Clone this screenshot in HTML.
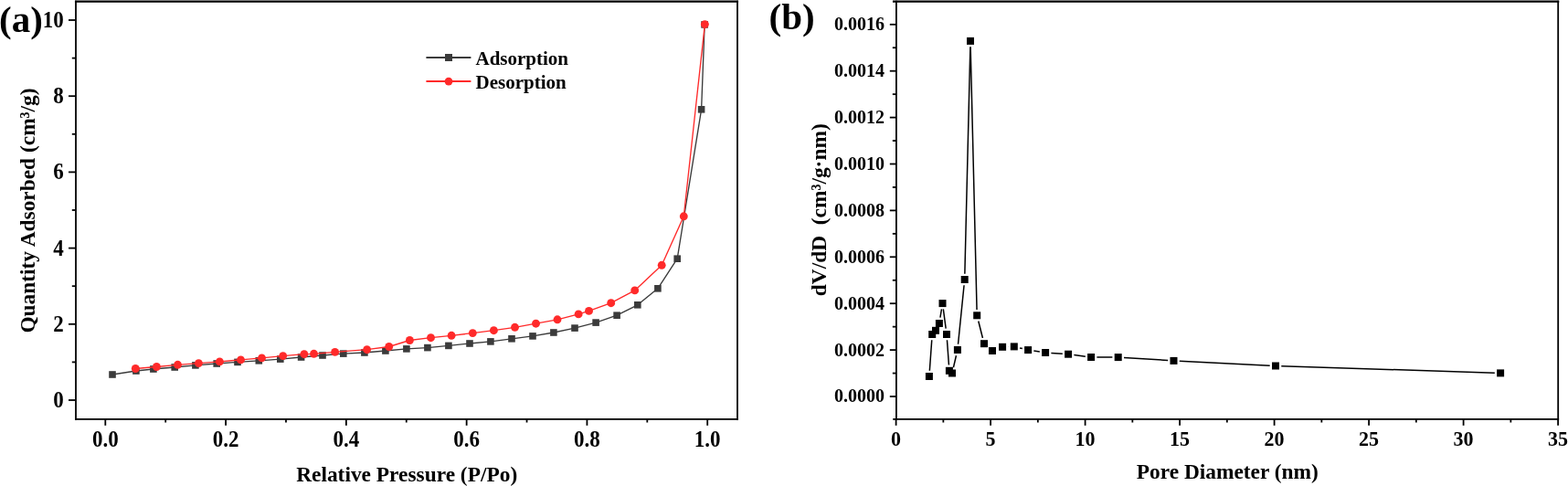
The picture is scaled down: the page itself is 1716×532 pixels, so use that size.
<!DOCTYPE html>
<html><head><meta charset="utf-8"><title>Figure</title>
<style>
html,body{margin:0;padding:0;background:#fff;}
body{width:1716px;height:532px;overflow:hidden;}
svg{display:block;}
svg text{font-family:"Liberation Serif", "Times New Roman", serif;font-weight:bold;fill:#000;}
</style></head>
<body>
<svg width="1716" height="532" viewBox="0 0 1716 532">
<rect width="1716" height="532" fill="#fff"/>
<g stroke-linecap="square">
<line x1="83.00" y1="1.60" x2="807.00" y2="1.60" stroke="#000" stroke-width="2.1"/>
<line x1="83.00" y1="458.90" x2="807.00" y2="458.90" stroke="#000" stroke-width="1.8"/>
<line x1="83.00" y1="1.60" x2="83.00" y2="458.90" stroke="#000" stroke-width="1.8"/>
<line x1="807.00" y1="1.60" x2="807.00" y2="458.90" stroke="#000" stroke-width="1.8"/>
</g>
<line x1="115.30" y1="458.90" x2="115.30" y2="465.80" stroke="#000" stroke-width="1.8"/>
<text transform="translate(115.30,489.20) scale(1,1.07)" font-size="23" text-anchor="middle">0.0</text>
<line x1="181.19" y1="458.90" x2="181.19" y2="462.50" stroke="#000" stroke-width="1.8"/>
<line x1="247.08" y1="458.90" x2="247.08" y2="465.80" stroke="#000" stroke-width="1.8"/>
<text transform="translate(247.08,489.20) scale(1,1.07)" font-size="23" text-anchor="middle">0.2</text>
<line x1="312.97" y1="458.90" x2="312.97" y2="462.50" stroke="#000" stroke-width="1.8"/>
<line x1="378.86" y1="458.90" x2="378.86" y2="465.80" stroke="#000" stroke-width="1.8"/>
<text transform="translate(378.86,489.20) scale(1,1.07)" font-size="23" text-anchor="middle">0.4</text>
<line x1="444.75" y1="458.90" x2="444.75" y2="462.50" stroke="#000" stroke-width="1.8"/>
<line x1="510.64" y1="458.90" x2="510.64" y2="465.80" stroke="#000" stroke-width="1.8"/>
<text transform="translate(510.64,489.20) scale(1,1.07)" font-size="23" text-anchor="middle">0.6</text>
<line x1="576.53" y1="458.90" x2="576.53" y2="462.50" stroke="#000" stroke-width="1.8"/>
<line x1="642.42" y1="458.90" x2="642.42" y2="465.80" stroke="#000" stroke-width="1.8"/>
<text transform="translate(642.42,489.20) scale(1,1.07)" font-size="23" text-anchor="middle">0.8</text>
<line x1="708.31" y1="458.90" x2="708.31" y2="462.50" stroke="#000" stroke-width="1.8"/>
<line x1="774.20" y1="458.90" x2="774.20" y2="465.80" stroke="#000" stroke-width="1.8"/>
<text transform="translate(774.20,489.20) scale(1,1.07)" font-size="23" text-anchor="middle">1.0</text>
<line x1="75.00" y1="438.00" x2="83.00" y2="438.00" stroke="#000" stroke-width="1.8"/>
<text transform="translate(69.70,445.90) scale(1,1.07)" font-size="23" text-anchor="end">0</text>
<line x1="78.80" y1="396.40" x2="83.00" y2="396.40" stroke="#000" stroke-width="1.8"/>
<line x1="75.00" y1="354.80" x2="83.00" y2="354.80" stroke="#000" stroke-width="1.8"/>
<text transform="translate(69.70,362.70) scale(1,1.07)" font-size="23" text-anchor="end">2</text>
<line x1="78.80" y1="313.20" x2="83.00" y2="313.20" stroke="#000" stroke-width="1.8"/>
<line x1="75.00" y1="271.60" x2="83.00" y2="271.60" stroke="#000" stroke-width="1.8"/>
<text transform="translate(69.70,279.50) scale(1,1.07)" font-size="23" text-anchor="end">4</text>
<line x1="78.80" y1="230.00" x2="83.00" y2="230.00" stroke="#000" stroke-width="1.8"/>
<line x1="75.00" y1="188.40" x2="83.00" y2="188.40" stroke="#000" stroke-width="1.8"/>
<text transform="translate(69.70,196.30) scale(1,1.07)" font-size="23" text-anchor="end">6</text>
<line x1="78.80" y1="146.80" x2="83.00" y2="146.80" stroke="#000" stroke-width="1.8"/>
<line x1="75.00" y1="105.20" x2="83.00" y2="105.20" stroke="#000" stroke-width="1.8"/>
<text transform="translate(69.70,113.10) scale(1,1.07)" font-size="23" text-anchor="end">8</text>
<line x1="78.80" y1="63.60" x2="83.00" y2="63.60" stroke="#000" stroke-width="1.8"/>
<line x1="75.00" y1="22.00" x2="83.00" y2="22.00" stroke="#000" stroke-width="1.8"/>
<text transform="translate(69.70,29.90) scale(1,1.07)" font-size="23" text-anchor="end">10</text>
<text x="445.20" y="526.70" font-size="23.4" text-anchor="middle">Relative Pressure (P/Po)</text>
<text transform="translate(38.0,230.5) rotate(-90)" font-size="23.4" text-anchor="middle">Quantity Adsorbed (cm³/g)</text>
<text x="-1.00" y="34.50" font-size="41" text-anchor="start">(a)</text>
<polyline points="123.0,410.0 148.9,406.0 167.9,404.0 191.2,402.0 213.9,399.9 237.2,398.0 260.0,396.4 283.3,394.8 306.8,393.1 329.6,391.0 353.0,389.0 375.8,387.1 398.9,386.0 421.9,384.0 444.9,381.9 467.9,380.6 490.9,378.4 514.0,376.0 536.9,373.9 560.0,370.8 583.0,367.9 605.9,364.0 629.0,359.1 652.1,353.1 675.1,345.2 697.8,333.8 719.9,315.8 741.2,283.2 767.6,119.8 771.1,26.9" fill="none" stroke="#3b3b3b" stroke-width="1.35" stroke-linejoin="round"/>
<rect x="119.20" y="406.20" width="7.6" height="7.6" fill="#3b3b3b"/>
<rect x="145.10" y="402.20" width="7.6" height="7.6" fill="#3b3b3b"/>
<rect x="164.10" y="400.20" width="7.6" height="7.6" fill="#3b3b3b"/>
<rect x="187.40" y="398.20" width="7.6" height="7.6" fill="#3b3b3b"/>
<rect x="210.10" y="396.10" width="7.6" height="7.6" fill="#3b3b3b"/>
<rect x="233.40" y="394.20" width="7.6" height="7.6" fill="#3b3b3b"/>
<rect x="256.20" y="392.60" width="7.6" height="7.6" fill="#3b3b3b"/>
<rect x="279.50" y="391.00" width="7.6" height="7.6" fill="#3b3b3b"/>
<rect x="303.00" y="389.30" width="7.6" height="7.6" fill="#3b3b3b"/>
<rect x="325.80" y="387.20" width="7.6" height="7.6" fill="#3b3b3b"/>
<rect x="349.20" y="385.20" width="7.6" height="7.6" fill="#3b3b3b"/>
<rect x="372.00" y="383.30" width="7.6" height="7.6" fill="#3b3b3b"/>
<rect x="395.10" y="382.20" width="7.6" height="7.6" fill="#3b3b3b"/>
<rect x="418.10" y="380.20" width="7.6" height="7.6" fill="#3b3b3b"/>
<rect x="441.10" y="378.10" width="7.6" height="7.6" fill="#3b3b3b"/>
<rect x="464.10" y="376.80" width="7.6" height="7.6" fill="#3b3b3b"/>
<rect x="487.10" y="374.60" width="7.6" height="7.6" fill="#3b3b3b"/>
<rect x="510.20" y="372.20" width="7.6" height="7.6" fill="#3b3b3b"/>
<rect x="533.10" y="370.10" width="7.6" height="7.6" fill="#3b3b3b"/>
<rect x="556.20" y="367.00" width="7.6" height="7.6" fill="#3b3b3b"/>
<rect x="579.20" y="364.10" width="7.6" height="7.6" fill="#3b3b3b"/>
<rect x="602.10" y="360.20" width="7.6" height="7.6" fill="#3b3b3b"/>
<rect x="625.20" y="355.30" width="7.6" height="7.6" fill="#3b3b3b"/>
<rect x="648.30" y="349.30" width="7.6" height="7.6" fill="#3b3b3b"/>
<rect x="671.30" y="341.40" width="7.6" height="7.6" fill="#3b3b3b"/>
<rect x="694.00" y="330.00" width="7.6" height="7.6" fill="#3b3b3b"/>
<rect x="716.10" y="312.00" width="7.6" height="7.6" fill="#3b3b3b"/>
<rect x="737.40" y="279.40" width="7.6" height="7.6" fill="#3b3b3b"/>
<rect x="763.80" y="116.00" width="7.6" height="7.6" fill="#3b3b3b"/>
<rect x="767.30" y="23.10" width="7.6" height="7.6" fill="#3b3b3b"/>
<polyline points="148.3,403.5 171.4,401.5 194.5,399.3 217.4,397.6 240.4,395.9 263.5,393.9 286.5,391.9 309.7,389.6 332.9,387.7 343.5,387.3 366.6,385.4 401.6,382.7 425.7,379.5 448.4,372.5 471.5,369.7 494.1,367.3 517.3,364.6 540.4,361.7 563.5,358.3 586.5,354.2 610.0,349.8 633.1,343.9 644.5,340.4 668.7,331.7 694.7,317.9 724.2,290.3 748.3,236.8 771.4,26.6" fill="none" stroke="#ff2a2a" stroke-width="1.35" stroke-linejoin="round"/>
<circle cx="148.30" cy="403.50" r="4.45" fill="#ff2a2a"/>
<circle cx="171.40" cy="401.50" r="4.45" fill="#ff2a2a"/>
<circle cx="194.50" cy="399.30" r="4.45" fill="#ff2a2a"/>
<circle cx="217.40" cy="397.60" r="4.45" fill="#ff2a2a"/>
<circle cx="240.40" cy="395.90" r="4.45" fill="#ff2a2a"/>
<circle cx="263.50" cy="393.90" r="4.45" fill="#ff2a2a"/>
<circle cx="286.50" cy="391.90" r="4.45" fill="#ff2a2a"/>
<circle cx="309.70" cy="389.60" r="4.45" fill="#ff2a2a"/>
<circle cx="332.90" cy="387.70" r="4.45" fill="#ff2a2a"/>
<circle cx="343.50" cy="387.30" r="4.45" fill="#ff2a2a"/>
<circle cx="366.60" cy="385.40" r="4.45" fill="#ff2a2a"/>
<circle cx="401.60" cy="382.70" r="4.45" fill="#ff2a2a"/>
<circle cx="425.70" cy="379.50" r="4.45" fill="#ff2a2a"/>
<circle cx="448.40" cy="372.50" r="4.45" fill="#ff2a2a"/>
<circle cx="471.50" cy="369.70" r="4.45" fill="#ff2a2a"/>
<circle cx="494.10" cy="367.30" r="4.45" fill="#ff2a2a"/>
<circle cx="517.30" cy="364.60" r="4.45" fill="#ff2a2a"/>
<circle cx="540.40" cy="361.70" r="4.45" fill="#ff2a2a"/>
<circle cx="563.50" cy="358.30" r="4.45" fill="#ff2a2a"/>
<circle cx="586.50" cy="354.20" r="4.45" fill="#ff2a2a"/>
<circle cx="610.00" cy="349.80" r="4.45" fill="#ff2a2a"/>
<circle cx="633.10" cy="343.90" r="4.45" fill="#ff2a2a"/>
<circle cx="644.50" cy="340.40" r="4.45" fill="#ff2a2a"/>
<circle cx="668.70" cy="331.70" r="4.45" fill="#ff2a2a"/>
<circle cx="694.70" cy="317.90" r="4.45" fill="#ff2a2a"/>
<circle cx="724.20" cy="290.30" r="4.45" fill="#ff2a2a"/>
<circle cx="748.30" cy="236.80" r="4.45" fill="#ff2a2a"/>
<circle cx="771.40" cy="26.60" r="4.45" fill="#ff2a2a"/>
<line x1="466.40" y1="63.00" x2="515.40" y2="63.00" stroke="#3b3b3b" stroke-width="2.0"/>
<rect x="487.00" y="59.00" width="8" height="8" fill="#3b3b3b"/>
<line x1="466.40" y1="89.00" x2="515.40" y2="89.00" stroke="#ff2a2a" stroke-width="2.0"/>
<circle cx="491" cy="89.1" r="4.4" fill="#ff2a2a"/>
<text x="520.50" y="70.50" font-size="21" text-anchor="start">Adsorption</text>
<text x="520.50" y="96.80" font-size="21" text-anchor="start">Desorption</text>
<g stroke-linecap="square">
<line x1="978.00" y1="1.60" x2="1705.20" y2="1.60" stroke="#000" stroke-width="2.1"/>
<line x1="978.10" y1="458.90" x2="1705.20" y2="458.90" stroke="#000" stroke-width="1.8"/>
<line x1="980.90" y1="1.60" x2="980.90" y2="458.90" stroke="#000" stroke-width="1.8"/>
<line x1="1705.20" y1="1.60" x2="1705.20" y2="458.90" stroke="#000" stroke-width="1.8"/>
</g>
<line x1="980.60" y1="458.90" x2="980.60" y2="465.80" stroke="#000" stroke-width="1.8"/>
<text transform="translate(980.60,488.40) scale(1,1.07)" font-size="22" text-anchor="middle">0</text>
<line x1="1032.35" y1="458.90" x2="1032.35" y2="462.50" stroke="#000" stroke-width="1.8"/>
<line x1="1084.10" y1="458.90" x2="1084.10" y2="465.80" stroke="#000" stroke-width="1.8"/>
<text transform="translate(1084.10,488.40) scale(1,1.07)" font-size="22" text-anchor="middle">5</text>
<line x1="1135.85" y1="458.90" x2="1135.85" y2="462.50" stroke="#000" stroke-width="1.8"/>
<line x1="1187.60" y1="458.90" x2="1187.60" y2="465.80" stroke="#000" stroke-width="1.8"/>
<text transform="translate(1187.60,488.40) scale(1,1.07)" font-size="22" text-anchor="middle">10</text>
<line x1="1239.35" y1="458.90" x2="1239.35" y2="462.50" stroke="#000" stroke-width="1.8"/>
<line x1="1291.10" y1="458.90" x2="1291.10" y2="465.80" stroke="#000" stroke-width="1.8"/>
<text transform="translate(1291.10,488.40) scale(1,1.07)" font-size="22" text-anchor="middle">15</text>
<line x1="1342.85" y1="458.90" x2="1342.85" y2="462.50" stroke="#000" stroke-width="1.8"/>
<line x1="1394.60" y1="458.90" x2="1394.60" y2="465.80" stroke="#000" stroke-width="1.8"/>
<text transform="translate(1394.60,488.40) scale(1,1.07)" font-size="22" text-anchor="middle">20</text>
<line x1="1446.35" y1="458.90" x2="1446.35" y2="462.50" stroke="#000" stroke-width="1.8"/>
<line x1="1498.10" y1="458.90" x2="1498.10" y2="465.80" stroke="#000" stroke-width="1.8"/>
<text transform="translate(1498.10,488.40) scale(1,1.07)" font-size="22" text-anchor="middle">25</text>
<line x1="1549.85" y1="458.90" x2="1549.85" y2="462.50" stroke="#000" stroke-width="1.8"/>
<line x1="1601.60" y1="458.90" x2="1601.60" y2="465.80" stroke="#000" stroke-width="1.8"/>
<text transform="translate(1601.60,488.40) scale(1,1.07)" font-size="22" text-anchor="middle">30</text>
<line x1="1653.35" y1="458.90" x2="1653.35" y2="462.50" stroke="#000" stroke-width="1.8"/>
<line x1="1705.10" y1="458.90" x2="1705.10" y2="465.80" stroke="#000" stroke-width="1.8"/>
<text transform="translate(1705.10,488.40) scale(1,1.07)" font-size="22" text-anchor="middle">35</text>
<line x1="973.80" y1="434.00" x2="980.90" y2="434.00" stroke="#000" stroke-width="1.8"/>
<text x="968.00" y="440.40" font-size="20" text-anchor="end">0.0000</text>
<line x1="976.80" y1="408.55" x2="980.90" y2="408.55" stroke="#000" stroke-width="1.8"/>
<line x1="973.80" y1="383.10" x2="980.90" y2="383.10" stroke="#000" stroke-width="1.8"/>
<text x="968.00" y="389.50" font-size="20" text-anchor="end">0.0002</text>
<line x1="976.80" y1="357.65" x2="980.90" y2="357.65" stroke="#000" stroke-width="1.8"/>
<line x1="973.80" y1="332.20" x2="980.90" y2="332.20" stroke="#000" stroke-width="1.8"/>
<text x="968.00" y="338.60" font-size="20" text-anchor="end">0.0004</text>
<line x1="976.80" y1="306.75" x2="980.90" y2="306.75" stroke="#000" stroke-width="1.8"/>
<line x1="973.80" y1="281.30" x2="980.90" y2="281.30" stroke="#000" stroke-width="1.8"/>
<text x="968.00" y="287.70" font-size="20" text-anchor="end">0.0006</text>
<line x1="976.80" y1="255.85" x2="980.90" y2="255.85" stroke="#000" stroke-width="1.8"/>
<line x1="973.80" y1="230.40" x2="980.90" y2="230.40" stroke="#000" stroke-width="1.8"/>
<text x="968.00" y="236.80" font-size="20" text-anchor="end">0.0008</text>
<line x1="976.80" y1="204.95" x2="980.90" y2="204.95" stroke="#000" stroke-width="1.8"/>
<line x1="973.80" y1="179.50" x2="980.90" y2="179.50" stroke="#000" stroke-width="1.8"/>
<text x="968.00" y="185.90" font-size="20" text-anchor="end">0.0010</text>
<line x1="976.80" y1="154.05" x2="980.90" y2="154.05" stroke="#000" stroke-width="1.8"/>
<line x1="973.80" y1="128.60" x2="980.90" y2="128.60" stroke="#000" stroke-width="1.8"/>
<text x="968.00" y="135.00" font-size="20" text-anchor="end">0.0012</text>
<line x1="976.80" y1="103.15" x2="980.90" y2="103.15" stroke="#000" stroke-width="1.8"/>
<line x1="973.80" y1="77.70" x2="980.90" y2="77.70" stroke="#000" stroke-width="1.8"/>
<text x="968.00" y="84.10" font-size="20" text-anchor="end">0.0014</text>
<line x1="976.80" y1="52.25" x2="980.90" y2="52.25" stroke="#000" stroke-width="1.8"/>
<line x1="973.80" y1="26.80" x2="980.90" y2="26.80" stroke="#000" stroke-width="1.8"/>
<text x="968.00" y="33.20" font-size="20" text-anchor="end">0.0016</text>
<text x="1343.30" y="524.20" font-size="23.4" text-anchor="middle">Pore Diameter (nm)</text>
<text transform="translate(904.0,229.8) rotate(-90)" font-size="23.4" text-anchor="middle" style="white-space:pre">dV/dD  (cm³/g·nm)</text>
<text x="841.50" y="32.00" font-size="41" text-anchor="start">(b)</text>
<path d="M1017.35,405.71L1019.75,372.29M1028.93,347.73L1030.47,338.37M1032.33,338.38L1035.17,359.72M1036.46,372.29L1038.44,399.51M1043.44,402.26L1046.46,389.24M1048.54,376.71L1055.06,312.29M1055.85,299.70L1061.85,51.20M1062.15,51.20L1069.05,339.00M1070.77,351.53L1075.43,369.97M1103.40,379.60L1103.50,379.60M1116.04,380.91L1118.86,381.59M1131.37,384.06L1137.83,385.04M1150.39,386.43L1162.81,387.27M1175.38,388.53L1187.82,390.17M1200.40,391.02L1217.40,391.08M1230.00,391.49L1278.20,394.51M1290.80,395.22L1389.70,400.18M1402.30,400.70L1635.80,408.20" stroke="#000" stroke-width="1.5" fill="none"/>
<rect x="1012.90" y="408.00" width="8" height="8" fill="#000"/>
<rect x="1016.20" y="362.00" width="8" height="8" fill="#000"/>
<rect x="1020.00" y="357.80" width="8" height="8" fill="#000"/>
<rect x="1023.90" y="350.00" width="8" height="8" fill="#000"/>
<rect x="1027.50" y="328.10" width="8" height="8" fill="#000"/>
<rect x="1032.00" y="362.00" width="8" height="8" fill="#000"/>
<rect x="1034.90" y="401.80" width="8" height="8" fill="#000"/>
<rect x="1038.00" y="404.50" width="8" height="8" fill="#000"/>
<rect x="1043.90" y="379.00" width="8" height="8" fill="#000"/>
<rect x="1051.70" y="302.00" width="8" height="8" fill="#000"/>
<rect x="1058.00" y="40.90" width="8" height="8" fill="#000"/>
<rect x="1065.20" y="341.30" width="8" height="8" fill="#000"/>
<rect x="1073.00" y="372.20" width="8" height="8" fill="#000"/>
<rect x="1082.00" y="380.00" width="8" height="8" fill="#000"/>
<rect x="1093.10" y="375.80" width="8" height="8" fill="#000"/>
<rect x="1105.80" y="375.40" width="8" height="8" fill="#000"/>
<rect x="1121.10" y="379.10" width="8" height="8" fill="#000"/>
<rect x="1140.10" y="382.00" width="8" height="8" fill="#000"/>
<rect x="1165.10" y="383.70" width="8" height="8" fill="#000"/>
<rect x="1190.10" y="387.00" width="8" height="8" fill="#000"/>
<rect x="1219.70" y="387.10" width="8" height="8" fill="#000"/>
<rect x="1280.50" y="390.90" width="8" height="8" fill="#000"/>
<rect x="1392.00" y="396.50" width="8" height="8" fill="#000"/>
<rect x="1638.10" y="404.40" width="8" height="8" fill="#000"/>
</svg>
</body></html>
